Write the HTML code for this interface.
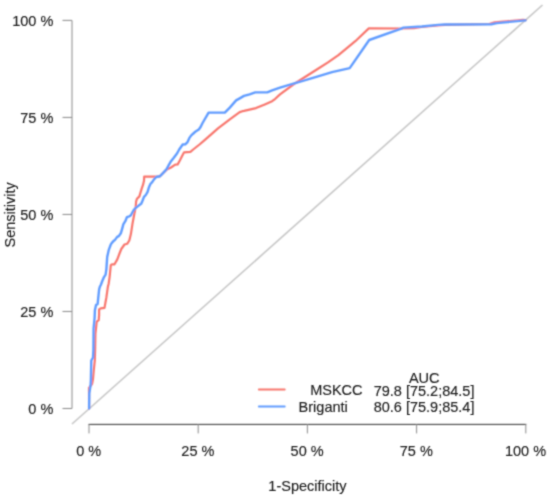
<!DOCTYPE html>
<html><head><meta charset="utf-8"><style>
html,body{margin:0;padding:0;background:#fff;}
body{width:550px;height:499px;overflow:hidden;}
svg{display:block;}
svg text{font-family:"Liberation Sans",Arial,sans-serif;font-size:14.5px;fill:#222;stroke:#222;stroke-width:0.15px;}
</style></head><body>
<svg width="550" height="499" viewBox="0 0 550 499">
<defs><filter id="s" filterUnits="userSpaceOnUse" x="0" y="0" width="550" height="499"><feConvolveMatrix order="3" kernelMatrix="0.0441 0.1218 0.0441 0.1218 0.3364 0.1218 0.0441 0.1218 0.0441" divisor="1" edgeMode="none" preserveAlpha="false"/></filter><filter id="t" filterUnits="userSpaceOnUse" x="0" y="0" width="550" height="499"><feConvolveMatrix order="3" kernelMatrix="0.0289 0.1122 0.0289 0.1122 0.4356 0.1122 0.0289 0.1122 0.0289" divisor="1" edgeMode="none" preserveAlpha="false"/></filter></defs>
<rect width="550" height="499" fill="#fff"/>
<g filter="url(#s)">
<line x1="72" y1="424" x2="542.5" y2="5" stroke="#c6c6c6" stroke-width="1.6"/>
<line x1="72.0" y1="408.50" x2="72.0" y2="20.40" stroke="#8a8a8a" stroke-width="1"/>
<line x1="62.50" y1="408.50" x2="72.0" y2="408.50" stroke="#8a8a8a" stroke-width="1"/>
<line x1="62.50" y1="311.48" x2="72.0" y2="311.48" stroke="#8a8a8a" stroke-width="1"/>
<line x1="62.50" y1="214.45" x2="72.0" y2="214.45" stroke="#8a8a8a" stroke-width="1"/>
<line x1="62.50" y1="117.43" x2="72.0" y2="117.43" stroke="#8a8a8a" stroke-width="1"/>
<line x1="62.50" y1="20.40" x2="72.0" y2="20.40" stroke="#8a8a8a" stroke-width="1"/>
<line x1="88.50" y1="424.4" x2="526.30" y2="424.4" stroke="#333" stroke-width="1"/>
<line x1="89.00" y1="424.4" x2="89.00" y2="433.40" stroke="#8a8a8a" stroke-width="1"/>
<line x1="198.20" y1="424.4" x2="198.20" y2="433.40" stroke="#8a8a8a" stroke-width="1"/>
<line x1="307.40" y1="424.4" x2="307.40" y2="433.40" stroke="#8a8a8a" stroke-width="1"/>
<line x1="416.60" y1="424.4" x2="416.60" y2="433.40" stroke="#8a8a8a" stroke-width="1"/>
<line x1="525.80" y1="424.4" x2="525.80" y2="433.40" stroke="#8a8a8a" stroke-width="1"/>
<polyline points="89.1,408.4 89.0,388.0 92.0,384.0 93.0,379.0 93.7,371.0 94.8,360.5 95.1,350.0 95.4,333.5 96.0,328.3 96.7,321.7 98.7,320.2 99.1,315.0 99.1,309.4 100.7,308.3 104.5,307.9 106.4,297.2 107.9,286.6 108.6,284.0 109.6,277.1 110.8,265.1 112.0,264.3 114.5,264.3 117.3,259.4 119.7,253.0 121.3,249.0 124.5,244.5 127.3,243.7 129.3,240.5 130.9,234.1 132.5,223.6 133.7,217.2 134.3,214.0 135.7,207.0 136.1,201.5 137.0,198.7 139.4,196.4 140.3,193.2 141.7,188.6 143.0,184.9 144.0,180.7 144.2,176.6 156.3,176.6 159.8,176.3 163.0,173.1 166.8,169.6 171.0,167.5 175.2,164.7 177.7,164.4 180.2,159.8 183.0,154.2 184.1,152.3 190.4,151.9 193.2,149.5 199.5,144.5 205.2,139.6 218.0,128.4 229.8,119.3 239.7,112.1 242.4,111.2 244.0,110.9 256.0,108.1 264.8,104.4 272.1,101.2 275.3,98.8 280.0,94.4 294.0,84.0 318.0,68.8 328.0,62.4 338.4,55.2 348.1,47.2 355.3,41.2 368.8,28.4 402.0,28.5 414.0,28.2 421.8,27.0 438.2,25.3 445.0,24.8 489.2,24.0 494.6,22.4 523.0,19.8 525.5,20.2" fill="none" stroke="#F8766D" stroke-width="2.2" stroke-linejoin="round" stroke-linecap="round"/>
<polyline points="89.1,408.4 89.3,393.3 90.6,385.0 90.9,380.0 91.3,360.5 93.0,357.7 93.4,350.0 93.6,328.3 94.6,318.0 94.9,310.2 96.1,304.8 97.6,304.1 99.1,289.6 99.9,286.6 100.8,285.0 102.3,281.0 104.0,277.1 105.6,274.7 106.4,269.1 107.2,257.0 108.8,249.8 110.6,245.0 111.2,243.7 113.6,240.9 114.8,240.1 117.2,236.9 118.8,236.1 120.8,233.3 122.5,227.7 123.3,224.4 125.3,221.2 126.9,217.2 129.3,216.4 130.9,215.2 133.4,210.5 135.2,208.4 138.0,206.1 139.8,204.7 141.2,203.8 142.6,200.5 144.0,196.9 145.8,195.0 147.6,191.8 149.0,187.2 150.4,184.0 152.2,182.1 154.0,179.4 156.3,177.0 159.8,176.3 163.0,173.1 166.8,168.9 168.6,165.4 171.0,161.2 173.8,157.7 177.0,153.5 179.2,149.5 182.7,144.5 185.5,144.2 187.3,142.4 189.4,137.9 191.5,135.1 193.9,133.0 196.0,131.2 198.8,129.5 200.6,127.0 202.3,123.5 204.0,120.5 208.6,112.6 224.8,112.6 229.8,107.6 236.1,100.4 239.7,98.4 244.0,95.9 249.6,94.3 255.2,92.4 267.3,92.4 272.1,90.4 280.0,87.6 318.0,76.4 332.0,72.1 349.7,68.1 369.2,40.0 402.0,28.4 403.3,27.6 421.8,26.5 438.2,24.9 445.0,24.5 491.4,24.2 496.8,23.1 525.5,20.4" fill="none" stroke="#619CFF" stroke-width="2.4" stroke-linejoin="round" stroke-linecap="round"/>
<line x1="258.9" y1="389.6" x2="284.7" y2="389.6" stroke="#F8766D" stroke-width="2" stroke-linecap="round"/>
<line x1="258.9" y1="406.6" x2="284.7" y2="406.6" stroke="#619CFF" stroke-width="2" stroke-linecap="round"/>
</g>
<g filter="url(#t)">
<text x="53.3" y="414.30" text-anchor="end">0 %</text>
<text x="53.3" y="317.28" text-anchor="end">25 %</text>
<text x="53.3" y="220.25" text-anchor="end">50 %</text>
<text x="53.3" y="123.23" text-anchor="end">75 %</text>
<text x="53.3" y="26.20" text-anchor="end">100 %</text>
<text x="88.70" y="455.6" text-anchor="middle">0 %</text>
<text x="197.90" y="455.6" text-anchor="middle">25 %</text>
<text x="307.10" y="455.6" text-anchor="middle">50 %</text>
<text x="416.30" y="455.6" text-anchor="middle">75 %</text>
<text x="525.50" y="455.6" text-anchor="middle">100 %</text>
<text x="307.4" y="490.6" text-anchor="middle">1-Specificity</text>
<text transform="translate(15.3,214.9) rotate(-90)" text-anchor="middle">Sensitivity</text>
<text x="310.2" y="394.7">MSKCC</text>
<text x="298.6" y="411.8">Briganti</text>
<text x="424.2" y="382.5" text-anchor="middle">AUC</text>
<text x="373.7" y="395.8">79.8 [75.2;84.5]</text>
<text x="373.7" y="412.2">80.6 [75.9;85.4]</text>
</g>
</svg>
</body></html>
